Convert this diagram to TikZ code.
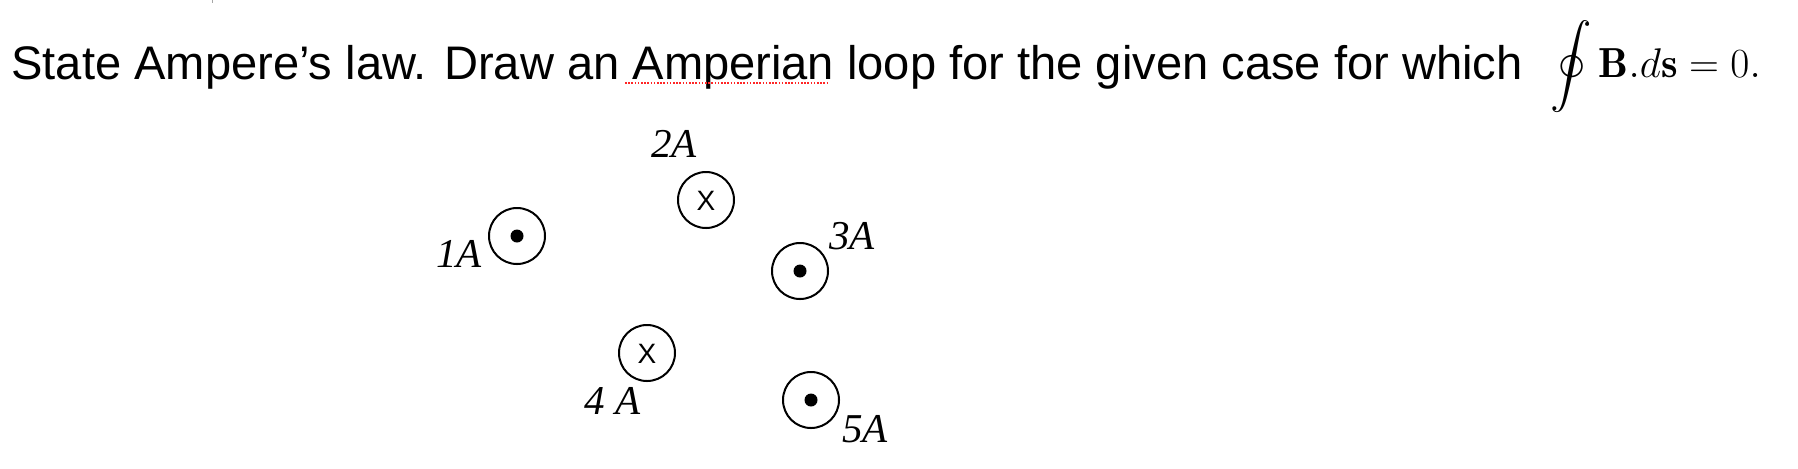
\documentclass[tikz,border=0pt]{standalone}
\usepackage{amsmath}
\usepackage{fontspec}
\newfontfamily\arialf{Liberation Sans}
\newfontfamily\tnrf{Liberation Serif}
\begin{document}
\begin{tikzpicture}[x=0.5pt,y=-0.5pt,
  wire/.style={circle,draw,line width=1pt,minimum size=28pt,inner sep=0pt},
  dotmark/.style={circle,fill,minimum size=6.5pt,inner sep=0pt},
  crossmark/.style={inner sep=0pt,font=\arialf\fontsize{14}{16}\selectfont},
  lab/.style={inner sep=0pt,anchor=base west,font=\tnrf\itshape\fontsize{20.5}{24}\selectfont},
  title/.style={inner sep=0pt,anchor=base west,font=\arialf\fontsize{23.55}{28}\selectfont},
  squiggle/.style={red!85,line width=0.6pt,dash pattern=on 0.8pt off 0.8pt}]
\useasboundingbox (0,0) rectangle (1798,468);
% stray tick at top
\draw[gray!70,line width=0.5pt] (212,0) -- (212,3);
% title
\node[title] (t) at (11,79) {State Ampere’s law. Draw an Amperian loop for the given case for which};
\node[inner sep=0pt,anchor=base west,font=\fontsize{21}{25}\selectfont] (m) at (1550,77) {$\displaystyle\oint \mathbf{B}.d\mathbf{s} = 0.$};
\coordinate (u1) at (625,83);
\coordinate (u2) at (829,83);
\draw[squiggle] (u1) -- (u2);
% wires
\node[wire] (c1) at (517,236) {};
\node[dotmark] (d1) at (c1) {};
\node[wire] (c2) at (706,200) {};
\node[crossmark] (x2) at (706,201) {X};
\node[wire] (c3) at (800,271) {};
\node[dotmark] (d3) at (c3) {};
\node[wire] (c4) at (647,353) {};
\node[crossmark] (x4) at (647,354) {X};
\node[wire] (c5) at (811,400) {};
\node[dotmark] (d5) at (c5) {};
% labels
\node[lab] (l1) at (436,267) {1A};
\node[lab] (l2) at (651,157) {2A};
\node[lab] (l3) at (829,249) {3A};
\node[lab] (l4) at (584,414) {4 A};
\node[lab] (l5) at (842,442) {5A};
\end{tikzpicture}
\end{document}
